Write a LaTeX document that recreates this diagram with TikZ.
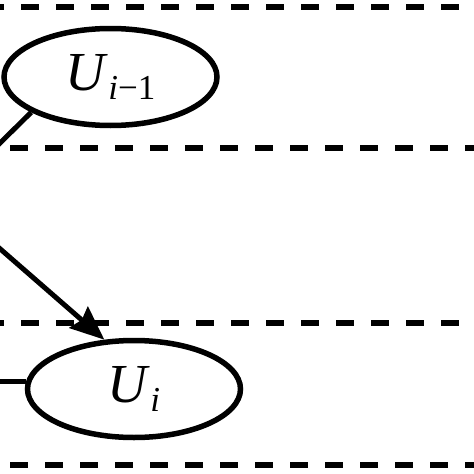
\documentclass[tikz,border=0pt]{standalone}
\usepackage{fontspec}
\setmainfont{Liberation Serif}
\usetikzlibrary{shapes.geometric,arrows.meta}
\tikzset{
  sep/.style={line width=5.5pt, dash pattern=on 18pt off 17pt},
  state/.style={draw, ellipse, line width=5.5pt, inner sep=0pt,
    minimum width=213pt, minimum height=97pt,
    font=\fontsize{55}{55}\selectfont},
  conn/.style={line width=5pt},
  arr/.style={line width=5pt, -{Stealth[length=34pt,width=28pt,inset=4pt]}}
}
\newcommand{\subtx}[1]{\raisebox{-0.16em}{\fontsize{35}{35}\selectfont #1}}
\begin{document}
\begin{tikzpicture}[x=1pt,y=-1pt]
\useasboundingbox (0,0) rectangle (474,474);
\clip (0,0) rectangle (474,474);
\coordinate (l1a) at (-14,7);   \coordinate (l1b) at (480,7);
\coordinate (l2a) at (10,148);  \coordinate (l2b) at (480,148);
\coordinate (l3a) at (-14,323); \coordinate (l3b) at (480,323);
\coordinate (l4a) at (10,465);  \coordinate (l4b) at (480,465);
\draw[sep] (l1a) -- (l1b);
\draw[sep] (l2a) -- (l2b);
\draw[sep] (l3a) -- (l3b);
\draw[sep] (l4a) -- (l4b);
\node[state] (u1) at (110.5,77) {\textit{U}\subtx{\textit{i}−1}};
\node[state] (u2) at (134,389) {\textit{U}\subtx{\textit{i}}};
\coordinate (c1) at (-2,145);
\coordinate (c2) at (-2,247);
\coordinate (c3) at (-2,383);
\draw[conn] (u1.204) -- (c1);
\draw[arr] (c2) -- (u2.121);
\draw[conn] (u2.176) -- (u2.176 -| c3);
\end{tikzpicture}
\end{document}
